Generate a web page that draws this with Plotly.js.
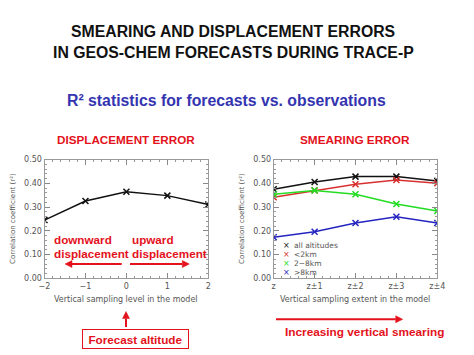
<!DOCTYPE html>
<html>
<head>
<meta charset="utf-8">
<script src="https://cdn.plot.ly/plotly-3.0.1.min.js"></script>
<style>html,body{margin:0;padding:0;background:#fff;}#chart{width:474px;height:355px;}</style>
</head>
<body>
<div id="chart"></div>
<script>
// ---- data ----
const dispLevels = [-2, -1, 0, 1, 2];
const dispR2 = [0.245, 0.325, 0.364, 0.348, 0.311];

const smearIdx = [0, 1, 2, 3, 4];
const smearTickText = ["z", "z\u00b11", "z\u00b12", "z\u00b13", "z\u00b14"];
const smearAll = [0.375, 0.405, 0.428, 0.428, 0.410];
const smearLow = [0.341, 0.370, 0.396, 0.414, 0.400];
const smearMid = [0.354, 0.370, 0.354, 0.313, 0.283];
const smearHigh = [0.173, 0.196, 0.233, 0.259, 0.233];
const seriesNames = ["all altitudes", "<2km", "2\u22128km", ">8km"];
const seriesColors = ["#111111", "#d83030", "#22dd22", "#2424c0"];

const yTicks = [0, 0.1, 0.2, 0.3, 0.4, 0.5];

// ---- helpers ----
const W = 474, H = 355;
const px = x => x / W;
const py = y => 1 - y / H;
const RED = "#e3121c";
const FAM = "Liberation Sans, Arial, sans-serif";
const THIN = "DejaVu Sans, sans-serif";
const tickFont = {family: THIN, size: 8, color: "#555"};

function axisBase() {
  return {
    showgrid: false, zeroline: false, showline: true, linecolor: "#999", linewidth: 1,
    mirror: "allticks", ticks: "inside", ticklen: 5, tickcolor: "#888", tickwidth: 1,
    tickfont: tickFont, automargin: false, fixedrange: true
  };
}

function lineTrace(x, y, color, xa, ya) {
  return {
    x: x, y: y, xaxis: xa, yaxis: ya, type: "scatter", mode: "lines+markers",
    line: {color: color, width: 1.5},
    marker: {symbol: "x-thin-open", size: 6, line: {color: color, width: 1.5}, color: color},
    showlegend: false, hoverinfo: "skip"
  };
}

const traces = [
  lineTrace(dispLevels, dispR2, "#111111", "x", "y"),
  lineTrace(smearIdx, smearAll, seriesColors[0], "x2", "y2"),
  lineTrace(smearIdx, smearLow, seriesColors[1], "x2", "y2"),
  lineTrace(smearIdx, smearMid, seriesColors[2], "x2", "y2"),
  lineTrace(smearIdx, smearHigh, seriesColors[3], "x2", "y2")
];

const yDom = [py(278.3), py(159.5)];
const minorX = {ticks: "inside", ticklen: 2, tickcolor: "#999", dtick: 0.2};
const minorY = {ticks: "inside", ticklen: 2, tickcolor: "#999", dtick: 0.02};

const layout = {
  width: W, height: H,
  margin: {l: 0, r: 0, t: 0, b: 0},
  paper_bgcolor: "#fff", plot_bgcolor: "#fff",
  showlegend: false,
  xaxis: Object.assign(axisBase(), {
    domain: [px(44.5), px(208.3)], range: [-2, 2], tickvals: dispLevels,
    ticktext: dispLevels.map(v => v < 0 ? "\u2212" + Math.abs(v) : String(v)),
    anchor: "y", minor: minorX
  }),
  yaxis: Object.assign(axisBase(), {
    domain: yDom, range: [0, 0.5], tickvals: yTicks, tickformat: ".2f", anchor: "x", minor: minorY
  }),
  xaxis2: Object.assign(axisBase(), {
    domain: [px(273.7), px(437.3)], range: [0, 4], tickvals: smearIdx,
    ticktext: smearTickText, anchor: "y2", minor: minorX
  }),
  yaxis2: Object.assign(axisBase(), {
    domain: yDom, range: [0, 0.5], tickvals: yTicks, tickformat: ".2f", anchor: "x2", minor: minorY
  }),
  annotations: [],
  shapes: []
};

const A = layout.annotations;
const S = layout.shapes;
const boldFont = (size, color) => ({family: FAM, size: size, color: color, weight: "bold"});
function label(x, y, text, font, opts) {
  A.push(Object.assign({xref: "paper", yref: "paper", x: px(x), y: py(y), text: text,
    showarrow: false, font: font, xanchor: "center", yanchor: "middle"}, opts || {}));
}
// arrow from (x0,y0) tail to (x1,y1) head, in pixels
function arrow(x0, y0, x1, y1) {
  const dx = x1 - x0, dy = y1 - y0, L = Math.hypot(dx, dy);
  const ux = dx / L, uy = dy / L, hl = 7, hw = 3.5;
  const bx = x1 - ux * hl, by = y1 - uy * hl;
  S.push({type: "line", xref: "paper", yref: "paper", x0: px(x0), y0: py(y0), x1: px(bx), y1: py(by),
    line: {color: RED, width: 2}});
  const p1 = [bx - uy * hw, by + ux * hw], p2 = [bx + uy * hw, by - ux * hw];
  S.push({type: "path", xref: "paper", yref: "paper",
    path: "M" + px(x1) + "," + py(y1) + " L" + px(p1[0]) + "," + py(p1[1]) + " L" + px(p2[0]) + "," + py(p2[1]) + " Z",
    fillcolor: RED, line: {color: RED, width: 0.5}});
}

// main titles
label(233, 32, "SMEARING AND DISPLACEMENT ERRORS", boldFont(15.8, "#111"));
label(233, 52, "IN GEOS-CHEM FORECASTS DURING TRACE-P", boldFont(15.8, "#111"));
label(226.5, 100, "R\u00b2 statistics for forecasts vs. observations", boldFont(15.8, "#3434b0"));
label(126, 140, "DISPLACEMENT ERROR", boldFont(11.7, RED));
label(355, 140, "SMEARING ERROR", boldFont(11.8, RED));

// axis titles
const axTitleFont = {family: THIN, size: 8, color: "#555"};
label(126, 299, "Vertical sampling level in the model", axTitleFont);
label(355, 299, "Vertical sampling extent in the model", axTitleFont);
label(13, 219, "Correlation coefficient (r\u00b2)", {family: THIN, size: 7, color: "#555"}, {textangle: -90});
label(242, 219, "Correlation coefficient (r\u00b2)", {family: THIN, size: 7, color: "#555"}, {textangle: -90});

// in-plot displacement labels
label(52, 239.5, "downward", boldFont(11.7, RED), {xanchor: "left"});
label(52, 253, "displacement", boldFont(11.7, RED), {xanchor: "left"});
label(130, 239.5, "upward", boldFont(11.7, RED), {xanchor: "left"});
label(130, 253, "displacement", boldFont(11.7, RED), {xanchor: "left"});
arrow(121.7, 264, 65, 264);
arrow(130, 264, 189.3, 264);

// legend (right panel)
const legY = [245.5, 254.5, 263.5, 272.5];
seriesNames.forEach((n, i) => {
  label(286, legY[i], "\u00d7", {family: THIN, size: 8, color: seriesColors[i]});
  label(292, legY[i], n, {family: THIN, size: 7.5, color: "#555"}, {xanchor: "left"});
});

// bottom annotations
arrow(126, 327, 126, 311.5);
label(135, 339.2, "Forecast altitude", boldFont(11.7, RED),
  {bordercolor: RED, borderwidth: 1, borderpad: 2.5, bgcolor: "#fff", width: 100});
arrow(276, 319.3, 402.7, 319.3);
label(364, 331.7, "Increasing vertical smearing", boldFont(11.8, RED));

Plotly.newPlot("chart", traces, layout, {staticPlot: true, displayModeBar: false});
</script>
</body>
</html>
